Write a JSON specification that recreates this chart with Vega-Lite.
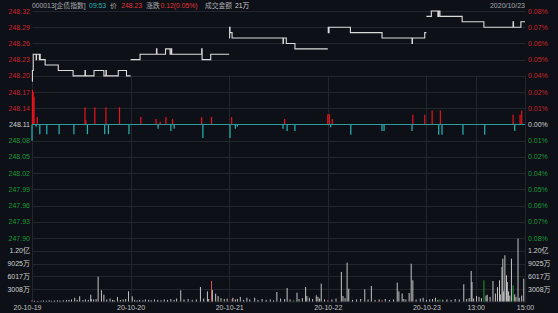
{
  "$schema": "https://vega.github.io/schema/vega-lite/v6.json",
  "width": 493,
  "height": 291,
  "autosize": {"type": "none"},
  "padding": {"left": 32, "top": 11, "right": 33, "bottom": 11},
  "background": "#0d1016",
  "config": {
    "view": {"stroke": null},
    "axis": {"labelFont": "Liberation Sans, Noto Sans CJK SC", "labelFontSize": 7, "domain": false, "ticks": false, "tickSize": 0, "gridColor": "#22262d", "gridWidth": 1, "labelOverlap": false, "labelFlush": false, "labelBound": false},
    "text": {"font": "Liberation Sans, Noto Sans CJK SC", "fontSize": 6.8, "baseline": "middle", "align": "left"}
  },
  "datasets": {
    "price": [
      {"day": 0, "t": 0, "p": 248.19}, {"day": 0, "t": 1, "p": 248.21}, {"day": 0, "t": 3, "p": 248.24}, {"day": 0, "t": 10, "p": 248.23}, {"day": 0, "t": 11, "p": 248.24}, {"day": 0, "t": 18, "p": 248.23}, {"day": 0, "t": 19, "p": 248.24}, {"day": 0, "t": 20, "p": 248.23}, {"day": 0, "t": 32, "p": 248.22}, {"day": 0, "t": 64, "p": 248.21}, {"day": 0, "t": 100, "p": 248.2}, {"day": 0, "t": 129, "p": 248.21}, {"day": 0, "t": 130, "p": 248.2}, {"day": 0, "t": 151, "p": 248.21}, {"day": 0, "t": 175, "p": 248.2}, {"day": 0, "t": 180, "p": 248.21}, {"day": 0, "t": 181, "p": 248.2}, {"day": 0, "t": 210, "p": 248.21}, {"day": 0, "t": 230, "p": 248.2}, {"day": 0, "t": 240, "p": 248.2},
      {"day": 1, "t": 240, "p": 248.23}, {"day": 1, "t": 263, "p": 248.24}, {"day": 1, "t": 303, "p": 248.25}, {"day": 1, "t": 304, "p": 248.24}, {"day": 1, "t": 325, "p": 248.25}, {"day": 1, "t": 336, "p": 248.24}, {"day": 1, "t": 339, "p": 248.25}, {"day": 1, "t": 340, "p": 248.24}, {"day": 1, "t": 413, "p": 248.25}, {"day": 1, "t": 414, "p": 248.23}, {"day": 1, "t": 435, "p": 248.24}, {"day": 1, "t": 480, "p": 248.24},
      {"day": 2, "t": 480, "p": 248.27}, {"day": 2, "t": 481, "p": 248.29}, {"day": 2, "t": 482, "p": 248.28}, {"day": 2, "t": 487, "p": 248.27}, {"day": 2, "t": 611, "p": 248.26}, {"day": 2, "t": 612, "p": 248.27}, {"day": 2, "t": 619, "p": 248.26}, {"day": 2, "t": 640, "p": 248.25}, {"day": 2, "t": 720, "p": 248.25},
      {"day": 3, "t": 720, "p": 248.28}, {"day": 3, "t": 721, "p": 248.29}, {"day": 3, "t": 722, "p": 248.28}, {"day": 3, "t": 723, "p": 248.29}, {"day": 3, "t": 775, "p": 248.28}, {"day": 3, "t": 852, "p": 248.27}, {"day": 3, "t": 925, "p": 248.26}, {"day": 3, "t": 926, "p": 248.27}, {"day": 3, "t": 956, "p": 248.28}, {"day": 3, "t": 960, "p": 248.28},
      {"day": 4, "t": 960, "p": 248.31}, {"day": 4, "t": 972, "p": 248.32}, {"day": 4, "t": 988, "p": 248.31}, {"day": 4, "t": 990, "p": 248.32}, {"day": 4, "t": 993, "p": 248.31}, {"day": 4, "t": 1047, "p": 248.3}, {"day": 4, "t": 1100, "p": 248.29}, {"day": 4, "t": 1171, "p": 248.3}, {"day": 4, "t": 1172, "p": 248.29}, {"day": 4, "t": 1190, "p": 248.3}, {"day": 4, "t": 1200, "p": 248.3}
    ],
    "mid": [
      {"t": 1, "v": 248.174, "dir": "up"}, {"t": 3, "v": 248.17, "dir": "up"}, {"t": 5, "v": 248.162, "dir": "up"}, {"t": 13, "v": 248.124, "dir": "up"}, {"t": 129, "v": 248.142, "dir": "up"}, {"t": 131, "v": 248.118, "dir": "up"}, {"t": 153, "v": 248.142, "dir": "up"}, {"t": 180, "v": 248.142, "dir": "up"}, {"t": 213, "v": 248.142, "dir": "up"}, {"t": 265, "v": 248.124, "dir": "up"}, {"t": 302, "v": 248.12, "dir": "up"}, {"t": 312, "v": 248.115, "dir": "up"}, {"t": 326, "v": 248.124, "dir": "up"}, {"t": 342, "v": 248.12, "dir": "up"}, {"t": 413, "v": 248.124, "dir": "up"}, {"t": 437, "v": 248.124, "dir": "up"}, {"t": 486, "v": 248.124, "dir": "up"}, {"t": 615, "v": 248.12, "dir": "up"}, {"t": 720, "v": 248.129, "dir": "up"}, {"t": 724, "v": 248.129, "dir": "up"}, {"t": 731, "v": 248.12, "dir": "up"}, {"t": 927, "v": 248.128, "dir": "up"}, {"t": 956, "v": 248.128, "dir": "up"}, {"t": 974, "v": 248.136, "dir": "up"}, {"t": 994, "v": 248.136, "dir": "up"}, {"t": 1171, "v": 248.128, "dir": "up"}, {"t": 1188, "v": 248.128, "dir": "up"}, {"t": 1192, "v": 248.136, "dir": "up"},
      {"t": 0, "v": 248.08, "dir": "down"}, {"t": 10, "v": 248.106, "dir": "down"}, {"t": 19, "v": 248.092, "dir": "down"}, {"t": 36, "v": 248.092, "dir": "down"}, {"t": 66, "v": 248.092, "dir": "down"}, {"t": 102, "v": 248.092, "dir": "down"}, {"t": 135, "v": 248.092, "dir": "down"}, {"t": 177, "v": 248.092, "dir": "down"}, {"t": 186, "v": 248.092, "dir": "down"}, {"t": 236, "v": 248.092, "dir": "down"}, {"t": 307, "v": 248.102, "dir": "down"}, {"t": 338, "v": 248.098, "dir": "down"}, {"t": 346, "v": 248.102, "dir": "down"}, {"t": 416, "v": 248.085, "dir": "down"}, {"t": 482, "v": 248.085, "dir": "down"}, {"t": 495, "v": 248.102, "dir": "down"}, {"t": 500, "v": 248.106, "dir": "down"}, {"t": 611, "v": 248.102, "dir": "down"}, {"t": 621, "v": 248.098, "dir": "down"}, {"t": 640, "v": 248.098, "dir": "down"}, {"t": 727, "v": 248.105, "dir": "down"}, {"t": 776, "v": 248.091, "dir": "down"}, {"t": 852, "v": 248.098, "dir": "down"}, {"t": 857, "v": 248.098, "dir": "down"}, {"t": 925, "v": 248.098, "dir": "down"}, {"t": 990, "v": 248.091, "dir": "down"}, {"t": 998, "v": 248.091, "dir": "down"}, {"t": 1049, "v": 248.091, "dir": "down"}, {"t": 1102, "v": 248.091, "dir": "down"}, {"t": 1175, "v": 248.098, "dir": "down"}
    ],
    "vol": [
      {"t": 0, "v": 400, "d": "up"}, {"t": 6, "v": 300, "d": "flat"}, {"t": 14, "v": 250, "d": "flat"}, {"t": 22, "v": 300, "d": "flat"}, {"t": 28, "v": 350, "d": "flat"}, {"t": 35, "v": 300, "d": "flat"}, {"t": 42, "v": 400, "d": "flat"}, {"t": 48, "v": 300, "d": "flat"}, {"t": 55, "v": 350, "d": "flat"}, {"t": 62, "v": 400, "d": "flat"}, {"t": 68, "v": 350, "d": "flat"}, {"t": 76, "v": 400, "d": "flat"}, {"t": 84, "v": 450, "d": "flat"}, {"t": 90, "v": 500, "d": "flat"}, {"t": 96, "v": 600, "d": "flat"},
      {"t": 104, "v": 1000, "d": "flat"}, {"t": 110, "v": 500, "d": "flat"}, {"t": 116, "v": 1340, "d": "flat"}, {"t": 124, "v": 450, "d": "flat"}, {"t": 130, "v": 600, "d": "flat"}, {"t": 137, "v": 500, "d": "flat"}, {"t": 143, "v": 1720, "d": "flat"}, {"t": 144, "v": 700, "d": "flat"}, {"t": 150, "v": 600, "d": "flat"}, {"t": 156, "v": 700, "d": "flat"}, {"t": 161, "v": 5950, "d": "flat"}, {"t": 169, "v": 2750, "d": "flat"}, {"t": 175, "v": 1720, "d": "flat"}, {"t": 182, "v": 600, "d": "flat"}, {"t": 190, "v": 800, "d": "flat"}, {"t": 196, "v": 500, "d": "flat"}, {"t": 200, "v": 400, "d": "flat"}, {"t": 208, "v": 1170, "d": "flat"}, {"t": 215, "v": 500, "d": "flat"}, {"t": 222, "v": 600, "d": "flat"}, {"t": 228, "v": 700, "d": "flat"}, {"t": 235, "v": 2510, "d": "flat"},
      {"t": 244, "v": 1340, "d": "flat"}, {"t": 250, "v": 500, "d": "flat"}, {"t": 256, "v": 400, "d": "flat"}, {"t": 262, "v": 500, "d": "flat"}, {"t": 270, "v": 400, "d": "flat"}, {"t": 276, "v": 600, "d": "flat"}, {"t": 284, "v": 500, "d": "flat"}, {"t": 290, "v": 400, "d": "flat"}, {"t": 298, "v": 600, "d": "flat"}, {"t": 306, "v": 500, "d": "flat"}, {"t": 314, "v": 400, "d": "flat"}, {"t": 322, "v": 600, "d": "flat"}, {"t": 330, "v": 500, "d": "flat"}, {"t": 338, "v": 700, "d": "flat"}, {"t": 346, "v": 500, "d": "flat"}, {"t": 352, "v": 800, "d": "flat"}, {"t": 362, "v": 2750, "d": "flat"}, {"t": 370, "v": 600, "d": "flat"}, {"t": 380, "v": 700, "d": "flat"}, {"t": 390, "v": 500, "d": "flat"}, {"t": 400, "v": 600, "d": "flat"}, {"t": 410, "v": 3530, "d": "flat"}, {"t": 418, "v": 800, "d": "flat"}, {"t": 427, "v": 2510, "d": "flat"}, {"t": 430, "v": 700, "d": "flat"}, {"t": 437, "v": 4940, "d": "up"}, {"t": 439, "v": 2800, "d": "flat"}, {"t": 447, "v": 1950, "d": "flat"}, {"t": 453, "v": 1400, "d": "flat"}, {"t": 460, "v": 900, "d": "flat"}, {"t": 468, "v": 700, "d": "flat"}, {"t": 475, "v": 800, "d": "flat"},
      {"t": 487, "v": 700, "d": "up"}, {"t": 489, "v": 1000, "d": "flat"}, {"t": 495, "v": 600, "d": "flat"}, {"t": 500, "v": 700, "d": "flat"}, {"t": 507, "v": 1170, "d": "flat"}, {"t": 515, "v": 500, "d": "flat"}, {"t": 523, "v": 1000, "d": "flat"}, {"t": 530, "v": 600, "d": "flat"}, {"t": 542, "v": 1000, "d": "flat"}, {"t": 550, "v": 500, "d": "flat"}, {"t": 560, "v": 700, "d": "flat"}, {"t": 570, "v": 500, "d": "flat"}, {"t": 580, "v": 600, "d": "flat"}, {"t": 588, "v": 400, "d": "flat"}, {"t": 596, "v": 2350, "d": "flat"}, {"t": 605, "v": 800, "d": "flat"}, {"t": 615, "v": 700, "d": "flat"}, {"t": 621, "v": 3290, "d": "flat"}, {"t": 628, "v": 600, "d": "flat"}, {"t": 637, "v": 500, "d": "down"}, {"t": 645, "v": 2190, "d": "flat"}, {"t": 650, "v": 700, "d": "flat"}, {"t": 658, "v": 900, "d": "flat"}, {"t": 666, "v": 3530, "d": "flat"}, {"t": 669, "v": 1400, "d": "flat"}, {"t": 675, "v": 1000, "d": "flat"}, {"t": 683, "v": 700, "d": "flat"}, {"t": 692, "v": 1570, "d": "flat"}, {"t": 696, "v": 1200, "d": "flat"}, {"t": 700, "v": 800, "d": "flat"}, {"t": 704, "v": 4310, "d": "flat"}, {"t": 712, "v": 600, "d": "flat"},
      {"t": 720, "v": 500, "d": "up"}, {"t": 730, "v": 600, "d": "flat"}, {"t": 740, "v": 800, "d": "flat"}, {"t": 753, "v": 7050, "d": "flat"}, {"t": 757, "v": 1400, "d": "flat"}, {"t": 762, "v": 900, "d": "flat"}, {"t": 767, "v": 9240, "d": "flat"}, {"t": 771, "v": 3130, "d": "flat"}, {"t": 780, "v": 500, "d": "flat"}, {"t": 790, "v": 600, "d": "flat"}, {"t": 800, "v": 700, "d": "flat"}, {"t": 810, "v": 2980, "d": "flat"}, {"t": 818, "v": 600, "d": "flat"}, {"t": 826, "v": 3760, "d": "flat"}, {"t": 835, "v": 500, "d": "flat"}, {"t": 845, "v": 600, "d": "flat"}, {"t": 852, "v": 500, "d": "up"}, {"t": 860, "v": 700, "d": "flat"}, {"t": 870, "v": 500, "d": "flat"}, {"t": 880, "v": 600, "d": "flat"}, {"t": 889, "v": 4540, "d": "flat"}, {"t": 893, "v": 2500, "d": "flat"}, {"t": 901, "v": 2000, "d": "flat"}, {"t": 905, "v": 700, "d": "flat"}, {"t": 910, "v": 600, "d": "flat"}, {"t": 918, "v": 2115, "d": "flat"}, {"t": 923, "v": 9000, "d": "flat"}, {"t": 927, "v": 5100, "d": "flat"}, {"t": 935, "v": 600, "d": "flat"}, {"t": 945, "v": 800, "d": "flat"}, {"t": 952, "v": 1000, "d": "flat"},
      {"t": 960, "v": 500, "d": "flat"}, {"t": 968, "v": 600, "d": "flat"}, {"t": 975, "v": 700, "d": "flat"}, {"t": 982, "v": 1000, "d": "flat"}, {"t": 988, "v": 500, "d": "flat"}, {"t": 993, "v": 600, "d": "down"}, {"t": 1000, "v": 500, "d": "flat"}, {"t": 1010, "v": 600, "d": "flat"}, {"t": 1020, "v": 500, "d": "flat"}, {"t": 1030, "v": 700, "d": "flat"}, {"t": 1040, "v": 600, "d": "flat"}, {"t": 1051, "v": 4160, "d": "flat"}, {"t": 1058, "v": 700, "d": "flat"}, {"t": 1064, "v": 900, "d": "flat"}, {"t": 1069, "v": 7290, "d": "flat"}, {"t": 1071, "v": 4700, "d": "flat"}, {"t": 1075, "v": 800, "d": "flat"}, {"t": 1082, "v": 1400, "d": "flat"}, {"t": 1088, "v": 1200, "d": "flat"}, {"t": 1094, "v": 900, "d": "flat"}, {"t": 1100, "v": 5100, "d": "down"}, {"t": 1105, "v": 1500, "d": "flat"}, {"t": 1108, "v": 1700, "d": "flat"}, {"t": 1115, "v": 1200, "d": "flat"}, {"t": 1122, "v": 4940, "d": "flat"}, {"t": 1128, "v": 2000, "d": "flat"}, {"t": 1133, "v": 3500, "d": "flat"}, {"t": 1138, "v": 5100, "d": "flat"}, {"t": 1140, "v": 1800, "d": "flat"}, {"t": 1144, "v": 8225, "d": "flat"}, {"t": 1146, "v": 10180, "d": "flat"}, {"t": 1148, "v": 2500, "d": "flat"}, {"t": 1151, "v": 10970, "d": "flat"}, {"t": 1155, "v": 6270, "d": "flat"}, {"t": 1157, "v": 4700, "d": "flat"}, {"t": 1160, "v": 2500, "d": "flat"}, {"t": 1163, "v": 1500, "d": "flat"}, {"t": 1167, "v": 10180, "d": "flat"}, {"t": 1171, "v": 3920, "d": "down"}, {"t": 1175, "v": 1800, "d": "flat"}, {"t": 1178, "v": 1200, "d": "flat"}, {"t": 1183, "v": 14900, "d": "flat"}, {"t": 1186, "v": 1000, "d": "flat"}, {"t": 1192, "v": 1500, "d": "flat"}, {"t": 1197, "v": 5480, "d": "flat"}
    ],
    "hdr": [
      {"t": 0, "text": "000013[企债指数]", "kind": "name"},
      {"t": 139, "text": "09:53", "kind": "time"},
      {"t": 190, "text": "价", "kind": "label"},
      {"t": 217, "text": "248.23", "kind": "price"},
      {"t": 278, "text": "涨跌", "kind": "label"},
      {"t": 313, "text": "0.12(0.05%)", "kind": "price"},
      {"t": 421, "text": "成交金额", "kind": "label"},
      {"t": 494, "text": "21万", "kind": "amount"},
      {"t": 1200, "text": "2020/10/23", "kind": "date"}
    ]
  },
  "layer": [
    {
      "data": {"name": "price"},
      "mark": {"type": "line", "interpolate": "step-after", "color": "#dcdcdc", "strokeWidth": 1.1},
      "encoding": {
        "x": {"field": "t", "type": "quantitative", "title": null,
          "scale": {"domain": [0, 1200], "nice": false, "zero": false},
          "axis": {"orient": "bottom", "title": null, "values": [0, 240, 480, 720, 960, 1080, 1200], "grid": true, "labelPadding": 1, "labelColor": "#c4c4c4", "labelOverlap": false,
            "labelExpr": "datum.value == 0 ? '20-10-19' : datum.value == 240 ? '20-10-20' : datum.value == 480 ? '20-10-21' : datum.value == 720 ? '20-10-22' : datum.value == 960 ? '20-10-23' : datum.value == 1080 ? '13:00' : '15:00'",
            "labelOffset": {"condition": {"test": "datum.value == 0", "value": -5}, "value": 0}}},
        "y": {"field": "p", "type": "quantitative", "title": null,
          "scale": {"domain": [247.9, 248.32], "range": [227, 0], "zero": false, "nice": false},
          "axis": {"orient": "left", "title": null, "values": [247.9, 247.93, 247.96, 247.99, 248.02, 248.05, 248.08, 248.11, 248.14, 248.17, 248.2, 248.23, 248.26, 248.29, 248.32], "format": ".2f", "grid": true, "labelPadding": 2.5, "labelOverlap": false,
            "labelColor": {"condition": [{"test": "datum.value > 248.115", "value": "#c8262c"}, {"test": "datum.value < 248.105", "value": "#1b9a3c"}], "value": "#d0d0d0"}}},
        "detail": {"field": "day", "type": "nominal"}
      }
    },
    {
      "data": {"name": "mid"},
      "transform": [{"filter": "datum.dir == 'up'"}],
      "mark": {"type": "rule", "color": "#e8141c", "strokeWidth": 1.2},
      "encoding": {
        "x": {"field": "t", "type": "quantitative", "title": null},
        "y": {"field": "v", "type": "quantitative", "title": null, "scale": {"domain": [247.9, 248.32], "range": [227, 0], "zero": false, "nice": false}, "axis": null},
        "y2": {"datum": 248.11}
      }
    },
    {
      "data": {"name": "mid"},
      "transform": [{"filter": "datum.dir == 'down'"}],
      "mark": {"type": "rule", "color": "#22b8b8", "strokeWidth": 1.2},
      "encoding": {
        "x": {"field": "t", "type": "quantitative", "title": null},
        "y": {"field": "v", "type": "quantitative", "title": null, "scale": {"domain": [247.9, 248.32], "range": [227, 0], "zero": false, "nice": false}, "axis": null},
        "y2": {"datum": 248.11}
      }
    },
    {
      "data": {"name": "hdr"},
      "transform": [{"filter": "datum.kind == 'name' || datum.kind == 'label'"}],
      "mark": {"type": "text", "color": "#a9abb0"},
      "encoding": {
        "x": {"field": "t", "type": "quantitative", "title": null},
        "y": {"datum": 248.329, "type": "quantitative", "title": null, "scale": {"domain": [247.9, 248.32], "range": [227, 0], "zero": false, "nice": false}, "axis": null},
        "text": {"field": "text"}
      }
    },
    {
      "data": {"name": "hdr"},
      "transform": [{"filter": "datum.kind == 'time'"}],
      "mark": {"type": "text", "color": "#2fb5b5"},
      "encoding": {
        "x": {"field": "t", "type": "quantitative", "title": null},
        "y": {"datum": 248.329, "type": "quantitative", "title": null, "scale": {"domain": [247.9, 248.32], "range": [227, 0], "zero": false, "nice": false}, "axis": null},
        "text": {"field": "text"}
      }
    },
    {
      "data": {"name": "hdr"},
      "transform": [{"filter": "datum.kind == 'price'"}],
      "mark": {"type": "text", "color": "#e0343a"},
      "encoding": {
        "x": {"field": "t", "type": "quantitative", "title": null},
        "y": {"datum": 248.329, "type": "quantitative", "title": null, "scale": {"domain": [247.9, 248.32], "range": [227, 0], "zero": false, "nice": false}, "axis": null},
        "text": {"field": "text"}
      }
    },
    {
      "data": {"name": "hdr"},
      "transform": [{"filter": "datum.kind == 'amount'"}],
      "mark": {"type": "text", "color": "#d0d0d0"},
      "encoding": {
        "x": {"field": "t", "type": "quantitative", "title": null},
        "y": {"datum": 248.329, "type": "quantitative", "title": null, "scale": {"domain": [247.9, 248.32], "range": [227, 0], "zero": false, "nice": false}, "axis": null},
        "text": {"field": "text"}
      }
    },
    {
      "data": {"name": "hdr"},
      "transform": [{"filter": "datum.kind == 'date'"}],
      "mark": {"type": "text", "align": "right", "fontSize": 7, "color": "#a9abb0"},
      "encoding": {
        "x": {"field": "t", "type": "quantitative", "title": null},
        "y": {"datum": 248.329, "type": "quantitative", "title": null, "scale": {"domain": [247.9, 248.32], "range": [227, 0], "zero": false, "nice": false}, "axis": null},
        "text": {"field": "text"}
      }
    },
    {
      "data": {"values": [{}]},
      "mark": {"type": "rule", "color": "#2e9a9a", "strokeWidth": 1},
      "encoding": {
        "y": {"datum": 248.11, "type": "quantitative", "title": null,
          "scale": {"domain": [247.9, 248.32], "range": [227, 0], "zero": false, "nice": false},
          "axis": {"orient": "right", "title": null, "values": [247.9, 247.93, 247.96, 247.99, 248.02, 248.05, 248.08, 248.11, 248.14, 248.17, 248.2, 248.23, 248.26, 248.29, 248.32], "grid": false, "labelPadding": 2.5, "labelOverlap": false,
            "labelExpr": "format(abs(datum.value - 248.11) / 248.11 * 100, '.2f') + '%'",
            "labelColor": {"condition": [{"test": "datum.value > 248.115", "value": "#c8262c"}, {"test": "datum.value < 248.105", "value": "#1b9a3c"}], "value": "#d0d0d0"}}}
      }
    },
    {
      "data": {"name": "vol"},
      "mark": {"type": "rule", "strokeWidth": 1},
      "encoding": {
        "x": {"field": "t", "type": "quantitative", "title": null},
        "y": {"field": "v", "type": "quantitative", "title": null,
          "scale": {"domain": [0, 15040], "range": [291, 227], "zero": false, "nice": false},
          "axis": {"orient": "left", "title": null, "values": [3008, 6017, 9025, 12034], "grid": true, "labelPadding": 2.5, "labelColor": "#d0d0d0", "labelOverlap": false,
            "labelExpr": "datum.value >= 10000 ? format(datum.value / 10000, '.2f') + '亿' : format(datum.value, 'd') + '万'"}},
        "y2": {"datum": 0},
        "color": {"field": "d", "type": "nominal", "scale": {"domain": ["flat", "up", "down"], "range": ["#c4c4c4", "#d85858", "#1f9a30"]}, "legend": null}
      }
    },
    {
      "data": {"values": [{}]},
      "mark": {"type": "rule", "color": "#22262d", "strokeWidth": 1},
      "encoding": {
        "y": {"datum": 0, "type": "quantitative", "title": null,
          "scale": {"domain": [0, 15040], "range": [291, 227], "zero": false, "nice": false},
          "axis": {"orient": "right", "title": null, "values": [3008, 6017, 9025, 12034], "grid": false, "labelPadding": 2.5, "labelColor": "#d0d0d0", "labelOverlap": false,
            "labelExpr": "datum.value >= 10000 ? format(datum.value / 10000, '.2f') + '亿' : format(datum.value, 'd') + '万'"}}
      }
    }
  ],
  "resolve": {"scale": {"y": "independent"}, "axis": {"y": "independent"}}
}
